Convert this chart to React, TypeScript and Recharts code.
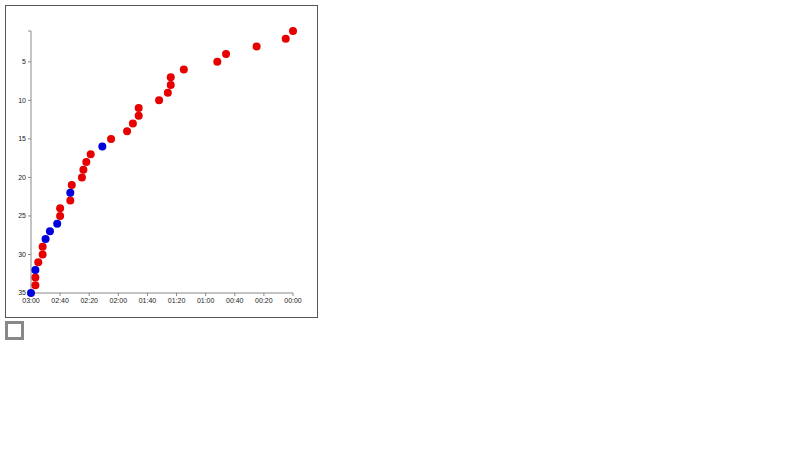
import { ScatterChart, Scatter, XAxis, YAxis } from "recharts";

// rank (1 = top) and time remaining in seconds
const ranks = [
  1, 2, 3, 4, 5, 6, 7, 8, 9, 10, 11, 12, 13, 14, 15, 16, 17, 18, 19, 20, 21,
  22, 23, 24, 25, 26, 27, 28, 29, 30, 31, 32, 33, 34, 35,
];
const times = [
  0, 5, 25, 46, 52, 75, 84, 84, 86, 92, 106, 106, 110, 114, 125, 131, 139, 142,
  144, 145, 152, 153, 153, 160, 160, 162, 167, 170, 172, 172, 175, 177, 177,
  177, 180,
];
const blueRanks = [16, 22, 26, 27, 28, 32, 35];

const xTicks = [0, 20, 40, 60, 80, 100, 120, 140, 160, 180];
const yTicks = [1, 5, 10, 15, 20, 25, 30, 35];

const points = ranks.map((r, i) => ({ rank: r, time: times[i] }));
const redPoints = points.filter((p) => !blueRanks.includes(p.rank));
const bluePoints = points.filter((p) => blueRanks.includes(p.rank));

const fmtTime = (s: number) => {
  const m = Math.floor(s / 60);
  const sec = s % 60;
  return `${String(m).padStart(2, "0")}:${String(sec).padStart(2, "0")}`;
};

const dot = (color: string) => (props: any) =>
  <circle cx={props.cx} cy={props.cy} r={4} fill={color} />;

const tickStyle = {
  fontSize: 7,
  fill: "#222",
  stroke: "none",
  fontFamily: "Liberation Sans, Arial, sans-serif",
};

export default function App() {
  return (
    <div>
      <div
        style={{
          position: "absolute",
          left: 5,
          top: 5,
          width: 313,
          height: 313,
          boxSizing: "border-box",
          border: "1px solid #555",
          background: "#fff",
        }}
      >
        <ScatterChart
          width={311}
          height={311}
          margin={{ top: 25, right: 24, bottom: 0, left: 0 }}
        >
          <XAxis
            dataKey="time"
            type="number"
            domain={[0, 180]}
            reversed
            ticks={xTicks}
            interval={0}
            tickFormatter={fmtTime}
            height={24}
            axisLine={{ stroke: "#888" }}
            tickLine={{ stroke: "#888" }}
            tickSize={3}
            tick={tickStyle}
          />
          <YAxis
            dataKey="rank"
            type="number"
            domain={[1, 35]}
            reversed
            ticks={yTicks}
            interval={0}
            tickFormatter={(v: number) => (v === 1 ? "" : String(v))}
            width={25}
            axisLine={{ stroke: "#888" }}
            tickLine={{ stroke: "#888" }}
            tickSize={3}
            tick={tickStyle}
          />
          <Scatter data={redPoints} shape={dot("#e60000")} isAnimationActive={false} />
          <Scatter data={bluePoints} shape={dot("#0000dd")} isAnimationActive={false} />
        </ScatterChart>
      </div>
      <div
        style={{
          position: "absolute",
          left: 5,
          top: 321,
          width: 19,
          height: 19,
          boxSizing: "border-box",
          border: "3px solid #888",
          background: "#fff",
        }}
      />
    </div>
  );
}
